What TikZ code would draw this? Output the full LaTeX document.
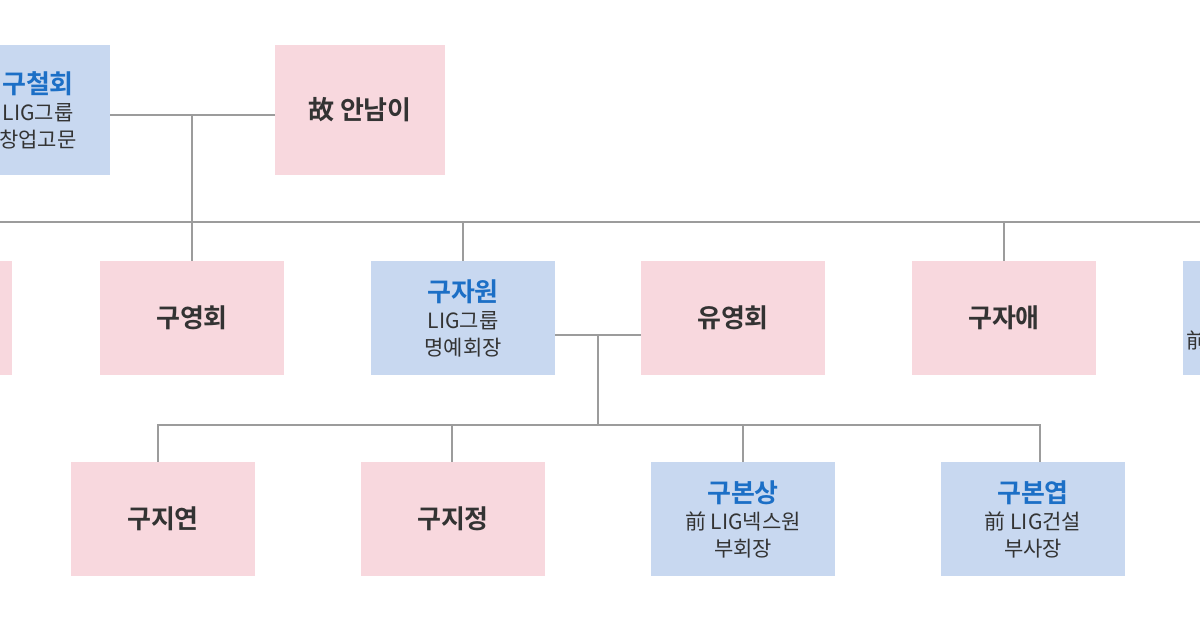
\documentclass[tikz,border=0pt]{standalone}
\usepackage{fontspec}
\newfontfamily\kr{Noto Sans CJK KR}
\newfontfamily\krb{Noto Sans CJK KR Bold}
\begin{document}
\begin{tikzpicture}[x=1pt,y=-1pt,
  pinkbox/.style={fill=pinkc,draw=none,minimum width=184pt,minimum height=114pt,inner sep=0pt,font=\krb\fontsize{26}{28}\selectfont,text=textc},
  bluebox/.style={fill=bluec,draw=none,minimum width=184pt,minimum height=114pt,inner sep=0pt,align=center,font=\kr\fontsize{21}{27}\selectfont,text=textc},
  ln/.style={draw=linec,line width=2.8pt}]
\definecolor{pinkc}{HTML}{F8D8DE}
\definecolor{bluec}{HTML}{C8D8F0}
\definecolor{textc}{HTML}{333333}
\definecolor{namec}{HTML}{1C6FC6}
\definecolor{linec}{HTML}{9C9C9C}
\newcommand{\nm}[1]{{\krb\fontsize{26}{31}\selectfont\color{namec}#1}}
\clip (0,0) rectangle (1200,630);
\fill[white] (0,0) rectangle (1200,630);
% top
\node[bluebox,minimum width=190pt,minimum height=130pt] (chul) at (15,110) {};
\node[align=center,font=\kr\fontsize{21}{27}\selectfont,text=textc] (chult) at (38,110) {\nm{구철회}\\LIG그룹\\창업고문};
\node[pinkbox,minimum width=170pt,minimum height=130pt] (ahn) at (360,110) {故 안남이};
\coordinate (j1) at (192,115);
\draw[ln] (chul.east |- j1) -- (ahn.west |- j1);
\draw[ln] (j1) -- (192,222);
\draw[ln] (-5,222) -- (1205,222);
% row 2
\node[pinkbox] (p0) at (-80,318) {};
\node[pinkbox] (ygh) at (192,318) {구영회};
\node[bluebox] (jw) at (463,318) {\nm{구자원}\\LIG그룹\\명예회장};
\node[pinkbox] (yu) at (733,318) {유영회};
\node[pinkbox] (ja) at (1004,318) {구자애};
\node[bluebox] (rb) at (1275,318) {};
\node[font=\kr\fontsize{21}{27}\selectfont,text=textc] (qian) at (1197,340) {前};
\draw[ln] (192,222) -- (ygh.north);
\draw[ln] (463,222) -- (jw.north);
\draw[ln] (1004,222) -- (ja.north);
\draw[ln] (jw.east |- 0,335) -- (yu.west |- 0,335);
\coordinate (j2) at (598,335);
\draw[ln] (j2) -- (598,425);
\draw[ln] (157,425) -- (1041,425);
% row 3
\node[pinkbox] (jy) at (163,519) {구지연};
\node[pinkbox] (jj) at (453,519) {구지정};
\node[bluebox] (bs) at (743,519) {\nm{구본상}\\前 LIG넥스원\\부회장};
\node[bluebox] (by) at (1033,519) {\nm{구본엽}\\前 LIG건설\\부사장};
\draw[ln] (158,425) -- (158,462);
\draw[ln] (452,425) -- (452,462);
\draw[ln] (743,425) -- (bs.north);
\draw[ln] (1040,425) -- (1040,462);
\end{tikzpicture}
\end{document}
